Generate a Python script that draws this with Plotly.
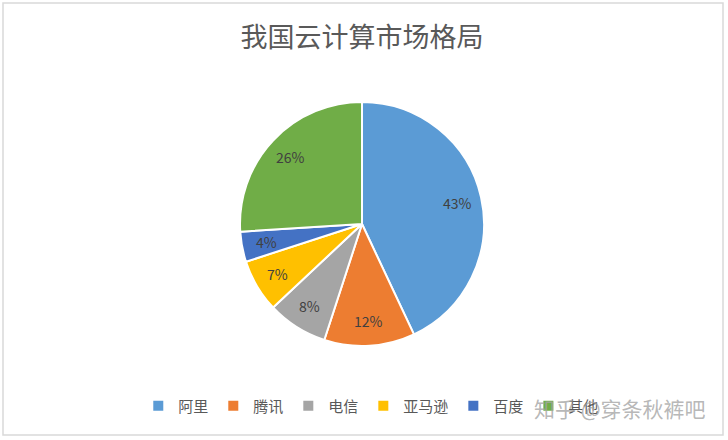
import numpy as np
import plotly.graph_objects as go

labels = ["阿里", "腾讯", "电信", "亚马逊", "百度", "其他"]
values = [43, 12, 8, 7, 4, 26]
colors = ["#5B9BD5", "#ED7D31", "#A5A5A5", "#FFC000", "#4472C4", "#70AD47"]

W, H = 728, 440
cx, cy, r = 362, 224, 122

fig = go.Figure(go.Pie(
    labels=labels, values=values, sort=False, direction="clockwise", rotation=0,
    marker=dict(colors=colors, line=dict(color="white", width=2)),
    textinfo="none",
    domain=dict(x=[(cx - r) / W, (cx + r) / W], y=[1 - (cy + r) / H, 1 - (cy - r) / H]),
    hoverinfo="label+percent",
))

# data labels placed at slice mid-angles (Excel style, ~0.8 of radius)
vals = np.array(values, dtype=float)
frac = vals / vals.sum()
mid = (np.cumsum(frac) - frac / 2) * 2 * np.pi
annotations = []
for f, a in zip(frac, mid):
    px = cx + 0.8 * r * np.sin(a)
    py = cy - 0.8 * r * np.cos(a)
    annotations.append(dict(text=f"{round(f * 100):.0f}%", x=px / W, y=1 - py / H, xref="paper", yref="paper",
                            xanchor="center", yanchor="middle", showarrow=False,
                            font=dict(size=14, color="#404040", family="Noto Sans CJK SC")))

annotations.append(dict(text="知乎 @穿条秋裤吧", x=620 / W, y=1 - 408 / H, xref="paper", yref="paper",
                        xanchor="center", yanchor="middle", showarrow=False,
                        font=dict(size=21, color="rgba(165,165,165,0.8)", family="Noto Sans CJK SC")))

fig.update_layout(
    width=W, height=H,
    margin=dict(l=0, r=0, t=0, b=0),
    paper_bgcolor="white", plot_bgcolor="white",
    font=dict(family="Noto Sans CJK SC", color="#595959"),
    title=dict(text="我国云计算市场格局", x=362 / W, xanchor="center", y=1 - 38 / H, yanchor="middle",
               font=dict(size=27, color="#595959", family="Noto Sans CJK SC")),
    legend=dict(orientation="h", x=0.51, xanchor="center", y=1 - 406 / H, yanchor="middle",
                font=dict(size=15, color="#595959"), itemwidth=30, traceorder="normal"),
    shapes=[dict(type="rect", xref="paper", yref="paper", x0=3 / W, x1=723 / W, y0=1 - 435 / H, y1=1 - 3 / H,
                 line=dict(color="#D9D9D9", width=1.5), fillcolor="rgba(0,0,0,0)", layer="below")],
    annotations=annotations,
)

fig.write_html("out.html", config={"displayModeBar": False},
               post_script="document.body.style.margin='0';")
